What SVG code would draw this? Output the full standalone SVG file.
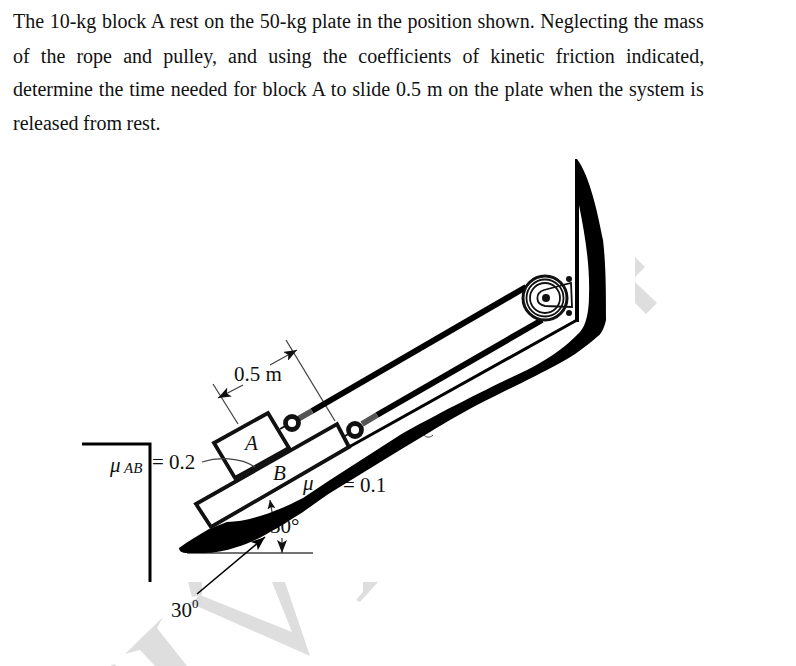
<svg xmlns="http://www.w3.org/2000/svg" width="796" height="666" viewBox="0 0 796 666">
<style>
text{font-family:"Liberation Serif","Times New Roman",serif;fill:#111}
.p{font-size:20px}
.l{font-size:21px}
.i{font-style:italic}
.wm{fill:#dedede;stroke:none}
.thin{fill:none;stroke:#444;stroke-width:1.3}
.rope{fill:none;stroke:#000;stroke-width:6}
.tip{fill:none;stroke:#555;stroke-width:6}
.box{fill:#fff;stroke:#111;stroke-width:3.8;stroke-linejoin:miter}
.ring{fill:#fff;stroke:#111;stroke-width:4.800}
.pr{fill:none;stroke:#111}
</style>
<defs>
<marker id="ah" viewBox="0 0 13 10" refX="13" refY="5" markerWidth="13" markerHeight="10" markerUnits="userSpaceOnUse" orient="auto"><path d="M0,0L13,5L0,10L3,5Z" fill="#111"/></marker>
<marker id="ahs" viewBox="0 0 9 8" refX="9" refY="4" markerWidth="9" markerHeight="8" markerUnits="userSpaceOnUse" orient="auto"><path d="M0,0L9,4L0,8L2,4Z" fill="#111"/></marker>
<marker id="ahb" viewBox="0 0 14 11" refX="14" refY="5.500" markerWidth="14" markerHeight="11" markerUnits="userSpaceOnUse" orient="auto"><path d="M0,0L14,5.500L0,11L3,5.500Z" fill="#000"/></marker>
</defs>
<rect width="796" height="666" fill="#fff"/>
<g id="watermark">
<path class="wm" d="M272,582L292,632L200,595L190,603L310,656L285,582Z"/>
<path class="wm" d="M188,582L202,582L202,595L192,597Z"/>
<path class="wm" d="M125,654L163,617L157,628L187,666L155,666L140,650Z"/>
<path class="wm" d="M110,666L114,664L117,666Z"/>
<path class="wm" d="M363,582L378,582L360,602L356,600L363,592Z"/>
<path class="wm" d="M635,257L645,267L635,277Z"/>
<path class="wm" d="M635,282L657,303L646,314L635,303Z"/>
</g>
<g id="problem-text">
<text class="p" x="13" y="28" word-spacing="0.57">The 10-kg block A rest on the 50-kg plate in the position shown. Neglecting the mass</text>
<text class="p" x="13" y="62.500" word-spacing="6.18">of the rope and pulley, and using the coefficients of kinetic friction indicated,</text>
<text class="p" x="13" y="96" word-spacing="0.9">determine the time needed for block A to slide 0.5 m on the plate when the system is</text>
<text class="p" x="13" y="130" word-spacing="-0.4">released from rest.</text>
</g>
<g id="labels-under">
<text class="l i" x="303" y="490">μ</text>
<text class="l" x="343" y="492">= 0.1</text>
<text class="l" x="270" y="533">30°</text>
</g>
<g id="connectors">
<path class="thin" d="M238,424L213,384"/>
<path class="thin" d="M335,421L286,340"/>
<path class="thin" d="M243,385L218,398" marker-end="url(#ah)"/>
<path class="thin" d="M270,365L297,350" marker-end="url(#ah)"/>
<path class="thin" d="M187,553L313,553"/>
<path class="thin" d="M282,538L282,553" marker-end="url(#ah)"/>
<path class="thin" d="M272,512L270,500" marker-end="url(#ahs)"/>
<path d="M197,594L265,537" fill="none" stroke="#000" stroke-width="1.6" marker-end="url(#ahb)"/>
<path d="M82,444L150,444L150,582" fill="none" stroke="#000" stroke-width="3"/>
<path d="M349,447L577,320" fill="none" stroke="#000" stroke-width="3"/>
<path class="rope" d="M312,411L526,287"/>
<path class="rope" d="M377,415L542,320"/>
<path class="tip" d="M298,419L312,411"/>
<path class="tip" d="M362,424L377,415"/>
<path d="M423,434C426,438 430,438 433,435" fill="none" stroke="#444" stroke-width="1"/>
</g>
<g id="ground">
<path fill="#000" d="M179,548C188,541 199,535 209,529L227,522C250,522 280,510 303,498L330,480L400,435C430,418 480,392 527,370C545,361 565,348 580,332C586,325 589,312 589,295C590,265 585,235 579,205L579,322L575,322L575,159L577,159C590,176 598,215 603,240C606,265 606,295 606,320C604,330 600,335 597,337C585,347 575,355 560,363C540,374 515,386 493,397C470,408 445,423 430,432L400,450L330,493C318,501 310,507 303,512C290,520 280,527 270,532C258,539 248,544 237,547C225,551 214,553 203,553L187,553C182,553 179,551 179,548Z"/>
</g>
<g id="plate-B">
<path class="box" d="M349,447L337,424L196,504L211,527Z" fill="#fff"/>
<text class="l i" x="273" y="480">B</text>
</g>
<g id="block-A">
<path class="box" d="M214,443L268,413L289,448L235,478Z"/>
<text class="l i" x="245" y="450">A</text>
</g>
<g id="hooks">
<path d="M280,429L287,425M345,436L350,433" stroke="#111" stroke-width="2" fill="none"/>
<circle class="ring" cx="292" cy="423" r="6.500"/>
<circle class="ring" cx="355" cy="430" r="6.500"/>
</g>
<g id="pulley">
<circle cx="545" cy="298" r="22" fill="#fff" stroke="#111" stroke-width="3"/>
<circle class="pr" cx="545" cy="298" r="18.500" stroke-width="1.800"/>
<circle class="pr" cx="545" cy="298" r="15" stroke-width="1.800"/>
<path d="M544,290L571,283L572,307L545,306C535,304 535,293 544,290Z" fill="none" stroke="#111" stroke-width="1.800"/>
<circle cx="546" cy="298" r="4" fill="#111"/>
<circle cx="569" cy="279" r="3" fill="#111"/>
<circle cx="569" cy="313" r="3" fill="#111"/>
</g>
<g id="labels">
<path class="thin" d="M202,462C218,457 240,457 255,467"/>
<text class="l" x="234" y="381">0.5 m</text>
<text class="l i" x="110" y="472">μ</text>
<text class="i" x="124" y="473" font-size="15">AB</text>
<text class="l" x="152" y="469">= 0.2</text>
<text class="l" x="171" y="617">30<tspan font-size="13" dy="-9">0</tspan></text>
</g>
</svg>
